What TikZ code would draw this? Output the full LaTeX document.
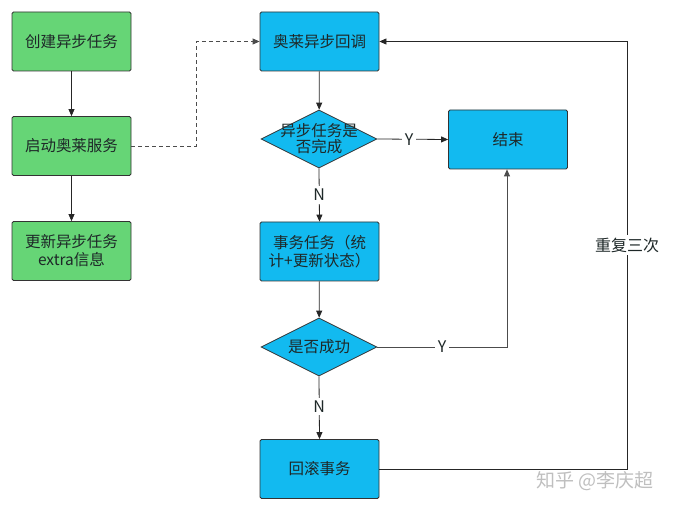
\documentclass[tikz,border=0pt]{standalone}
\usepackage{fontspec}
\setmainfont{Noto Sans CJK SC}
\usetikzlibrary{shapes.geometric,arrows.meta}
\definecolor{gbox}{RGB}{102,213,118}
\definecolor{bbox}{RGB}{18,186,240}
\definecolor{txt}{RGB}{30,40,40}
\tikzset{
  greenbox/.style={draw=black!80, line width=0.8pt, fill=gbox, rounded corners=1.5pt, minimum width=119pt, minimum height=59pt, inner sep=0pt, align=center, text=txt, font=\fontsize{15.5}{18}\selectfont},
  bluebox/.style={greenbox, fill=bbox},
  decision/.style={diamond, draw=black!80, line width=0.8pt, fill=bbox, minimum width=116pt, minimum height=58pt, aspect=2, inner sep=0pt},
  dtext/.style={align=center, text=txt, inner sep=0pt, font=\fontsize{15.5}{16}\selectfont},
  conn/.style={line width=0.8pt, draw=black!85, -{Triangle[length=7pt,width=6pt]}},
  lbl/.style={fill=white, inner sep=3pt, font=\fontsize{16}{18}\selectfont, text=txt}
}
\begin{document}
\begin{tikzpicture}[x=1pt,y=-1pt]
\useasboundingbox (0,0) rectangle (673,510);
\node[greenbox] (create) at (71.5,41.5) {创建异步任务};
\node[greenbox] (start) at (71.5,146) {启动奥莱服务};
\node[greenbox] (update) at (71.5,251) {更新异步任务\\extra信息};
\node[bluebox] (cb) at (319.5,41.5) {奥莱异步回调};
\node[decision] (d1) at (319,139) {};
\node[dtext] (d1t) at (319,139) {异步任务是\\否完成};
\node[bluebox] (end) at (508,139.5) {结束};
\node[bluebox] (tx) at (319.5,251.5) {事务任务（统\\计+更新状态）};
\node[decision] (d2) at (319,347) {};
\node[dtext] (d2t) at (319,347) {是否成功};
\node[bluebox] (rb) at (319.5,469) {回滚事务};
\coordinate (dA) at (196,146);
\coordinate (dB) at (196,41.5);
\coordinate (yA) at (507,347);
\coordinate (rA) at (627,469);
\coordinate (rB) at (627,41.5);

\draw[conn] (create) -- (start);
\draw[conn] (start) -- (update);
\draw[conn, dashed, dash pattern=on 4pt off 3pt, draw=black!70] (start.east) -- (dA) -- (dB) -- (cb.west);
\draw[conn] (cb) -- (d1);
\draw[conn] (d1.east) -- node[lbl, pos=0.45] {Y} (end.west);
\draw[conn] (d1.south) -- node[lbl, pos=0.5] {N} (tx.north);
\draw[conn] (tx) -- (d2);
\draw[conn, draw=black!70] (d2.east) -- node[lbl, pos=0.5] {Y} (yA) -- (yA |- end.south);
\draw[conn] (d2.south) -- node[lbl, pos=0.48] {N} (rb.north);
\draw[conn] (rb.east) -- (rA) -- node[lbl, pos=0.524] {重复三次} (rB) -- (cb.east);
\node[text=black!25, font=\fontsize{19}{21}\selectfont] (wm) at (595,481) {知乎 @李庆超};
\end{tikzpicture}
\end{document}
